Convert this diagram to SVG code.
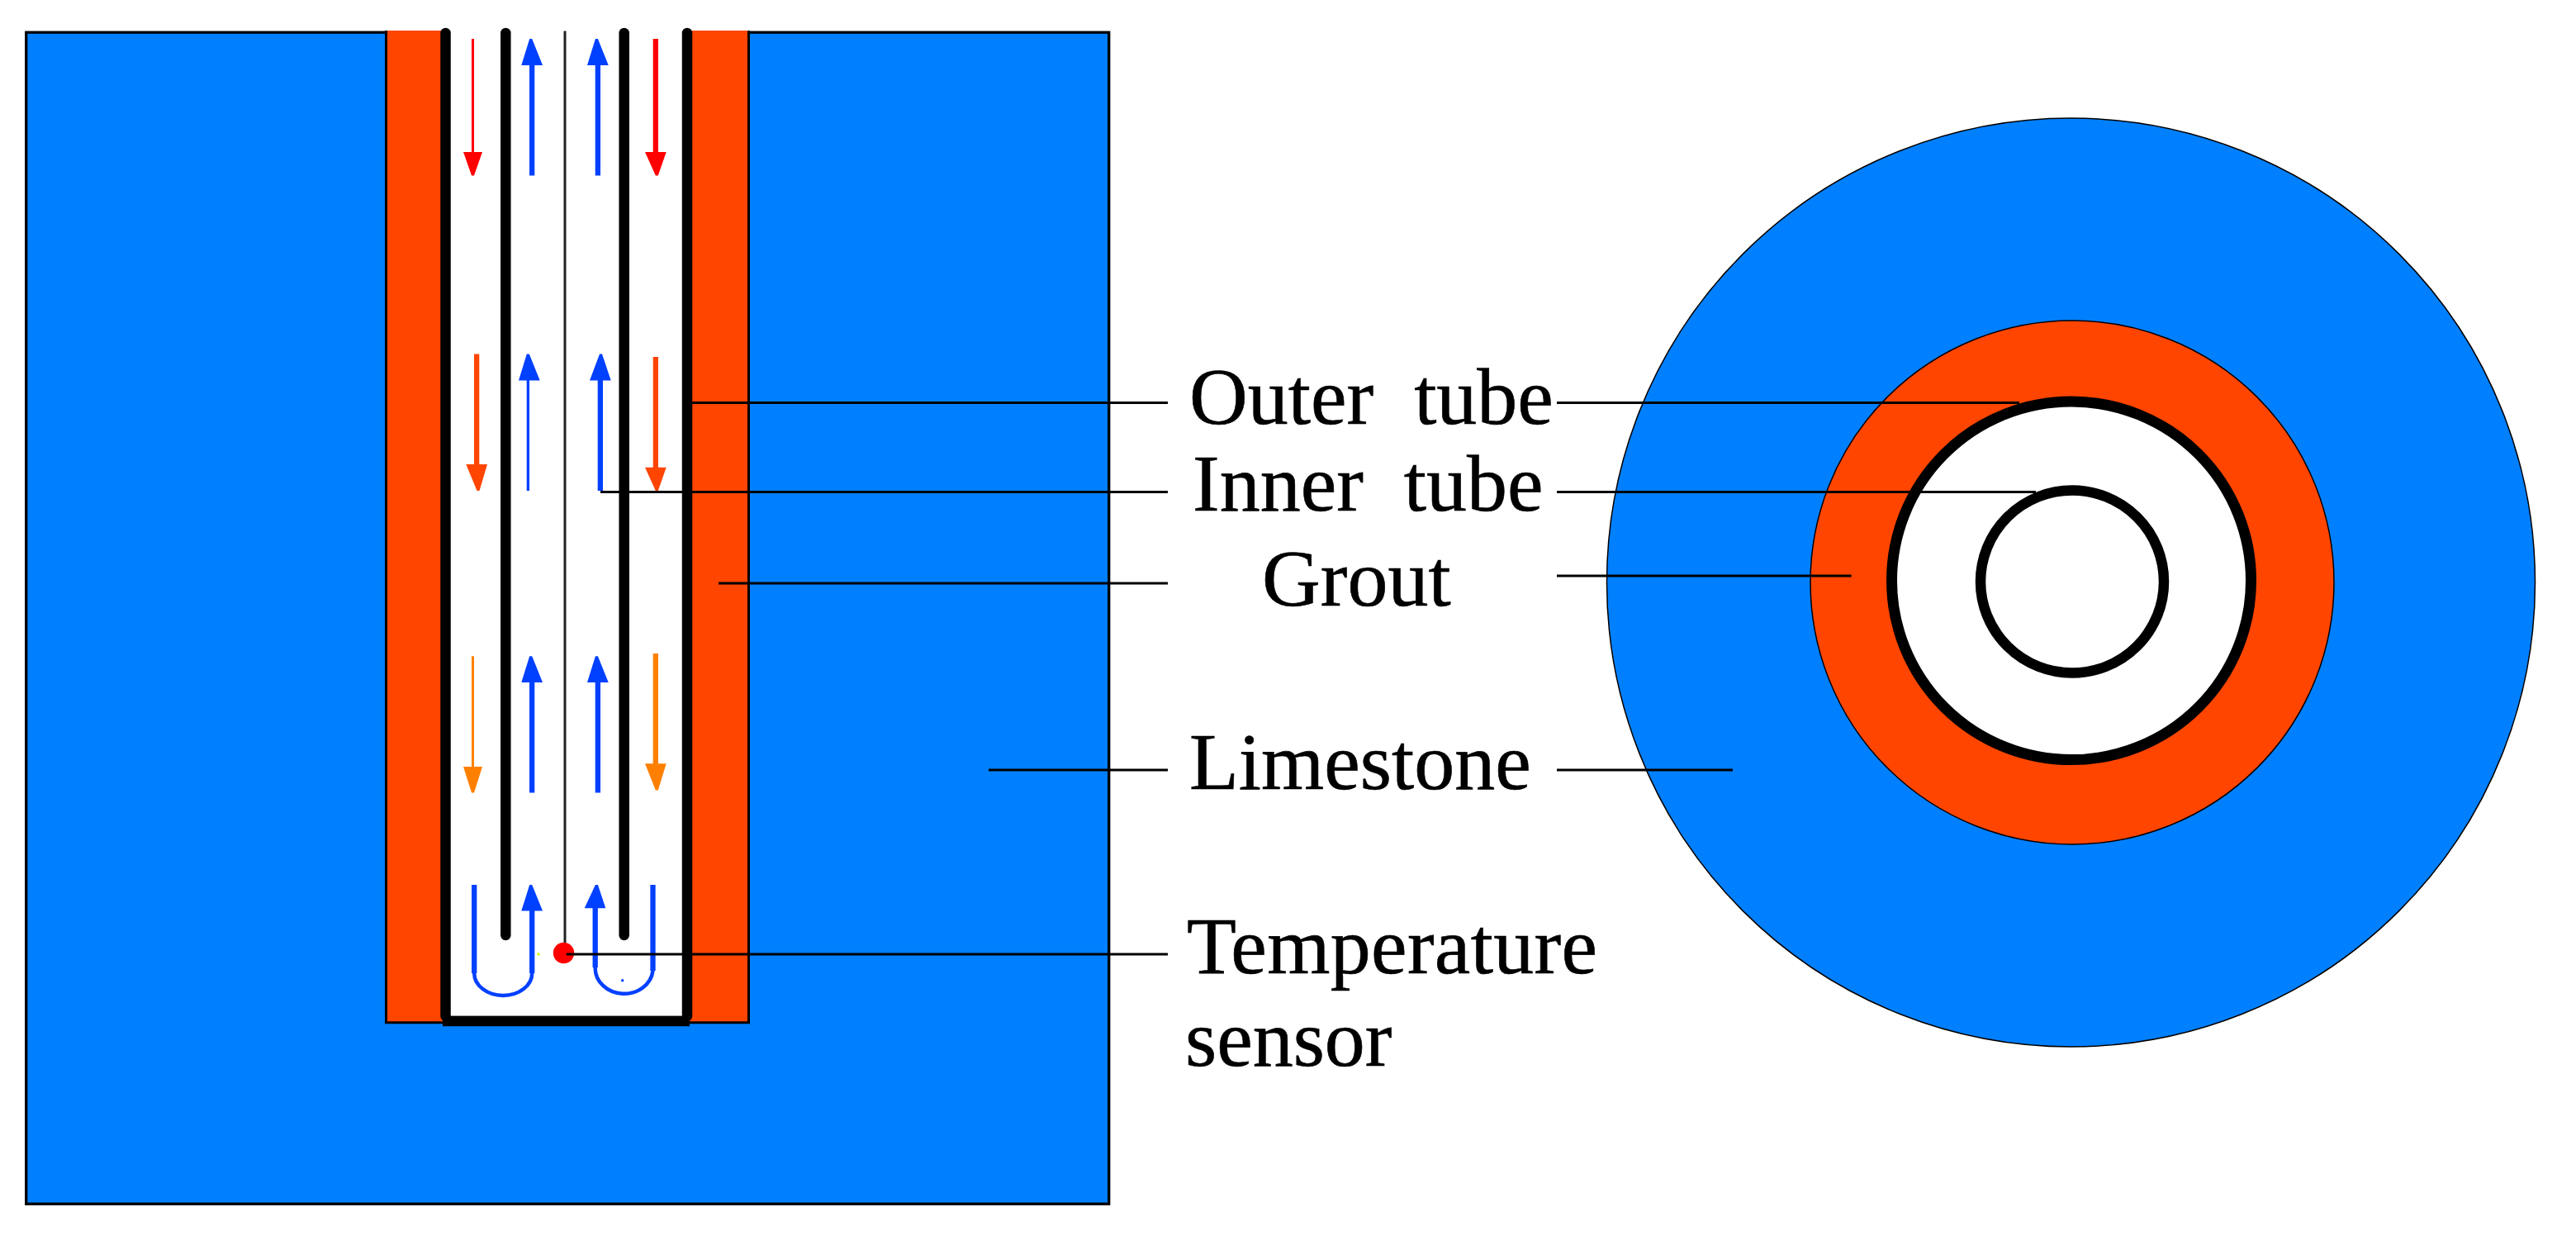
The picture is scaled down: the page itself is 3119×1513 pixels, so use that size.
<svg xmlns="http://www.w3.org/2000/svg" width="3119" height="1513" viewBox="0 0 3119 1513">
<style>
.lbl{font-family:"Liberation Serif","Times New Roman",serif;font-size:98px;fill:#000;stroke:#000;stroke-width:.6;white-space:pre}
.lead{stroke:#000;stroke-width:3;fill:none}
.tube{stroke:#000;stroke-width:12.5;fill:none;stroke-linecap:round}
.blue{fill:#0040ff}.red{fill:#ff0000}.oran{fill:#ff4500}.org{fill:#ff8000}
.lim{fill:#0080ff}.gro{fill:#ff4500}
.flow{stroke:#0040ff;fill:none}
</style>
<rect width="3119" height="1513" fill="#fff"/>
<g id="borehole-section">
<rect class="lim" x="31.7" y="39.2" width="1311" height="1418" stroke="#000" stroke-width="3.3"/>
<path class="gro" d="M467.5 37V1237.8H906.5V37z"/>
<path d="M467.5 37V1237.8H906.5V37" fill="none" stroke="#000" stroke-width="3"/>
<rect x="539.5" y="36" width="292.5" height="1196.4" fill="#fff"/>
<path class="tube" d="M539.5 40V1230"/>
<path class="tube" d="M832 40V1230"/>
<rect x="536" y="1229.6" width="299" height="12.6" fill="#000"/>
<path class="tube" d="M612.3 40V1132"/>
<path class="tube" d="M755.7 40V1132"/>
<path d="M684 37.4V1145" stroke="#222" stroke-width="3" fill="none"/>
<circle cx="682.5" cy="1153.5" r="12.7" fill="#ff0000"/>
</g>
<g id="flow-arrows">
<path class="red" d="M571 47h3V184h10L574 212.6H571L561 184h10z"/>
<path class="blue" d="M641 212.6V79H631.3L641.2 47H644.2L657 79H647.3V212.6z"/>
<path class="blue" d="M720.7 212.6V79H711L720.9 47H723.9L736.7 79H727V212.6z"/>
<path class="red" d="M790.7 47H797V184H806.7L796.8 212.6H793.8L781 184H790.7z"/>
<path class="oran" d="M574 428.5H580.3V562H590L580.5 594H577.5L564.3 562H574z"/>
<path class="blue" d="M637.7 594V460.5H628L637.8 428.5H640.8L653.7 460.5H641V594z"/>
<path class="blue" d="M723.7 594V460.5H714L726 428.5H729L739.7 460.5H730V594z"/>
<path class="oran" d="M790.7 432H797V565.7H806.7L796.8 594H793.8L781 565.7H790.7z"/>
<path class="org" d="M571 794.3h3V927.9h10L574 959.6H571L561 927.9h10z"/>
<path class="blue" d="M641 959.6V826H631.3L641.2 794.3H644.2L657 826H647.3V959.6z"/>
<path class="blue" d="M720.7 959.6V826H711L720.9 794.3H723.9L736.7 826H727V959.6z"/>
<path class="org" d="M790.7 791H797V924.3H806.7L796.8 956.4H793.8L781 924.3H790.7z"/>
<path class="flow" stroke-width="6.3" d="M574.2 1071V1178M644.2 1178V1100"/>
<path class="flow" stroke-width="4.5" d="M574.2 1178A35 27 0 0 0 644.2 1178"/>
<path class="blue" d="M631.3 1102.5L641.2 1071H644.2L657 1102.5z"/>
<path class="flow" stroke-width="6.3" d="M720.7 1095V1171M790.5 1071V1175"/>
<path class="flow" stroke-width="4.5" d="M720.7 1171A35 31 0 0 0 790.5 1175"/>
<path class="blue" d="M707.7 1099.3L720.9 1071H723.9L733.3 1099.3z"/>
<circle cx="753.7" cy="1186.8" r="1.7" fill="#0040ff"/>
<circle cx="652" cy="1155" r="1.7" fill="#c8ff00"/>
</g>
<g id="plan-section">
<circle class="lim" cx="2507.5" cy="705" r="562" stroke="#000" stroke-width="1.5"/>
<circle class="gro" cx="2509" cy="705" r="317" stroke="#000" stroke-width="1.5"/>
<ellipse cx="2508" cy="702.8" rx="217.5" ry="216.8" fill="#fff" stroke="#000" stroke-width="13"/>
<ellipse cx="2509" cy="704" rx="111" ry="110.5" fill="#fff" stroke="#000" stroke-width="12.5"/>
</g>
<g id="connectors">
<path class="lead" d="M838 487.5H1414M727 595.5H1414M870 706H1414M1197 932H1414M685.7 1155H1414"/>
<path class="lead" d="M1885 487.5H2445M1885 595.5H2465M1885 697H2241.6M1885 932H2098"/>
</g>
<g id="labels">
<text class="lbl" x="1440" y="513">Outer  tube</text>
<text class="lbl" x="1444" y="618">Inner  tube</text>
<text class="lbl" x="1528" y="733">Grout</text>
<text class="lbl" x="1440" y="955">Limestone</text>
<text class="lbl" x="1437" y="1178" textLength="497">Temperature</text>
<text class="lbl" x="1435" y="1290">sensor</text>
</g>
</svg>
